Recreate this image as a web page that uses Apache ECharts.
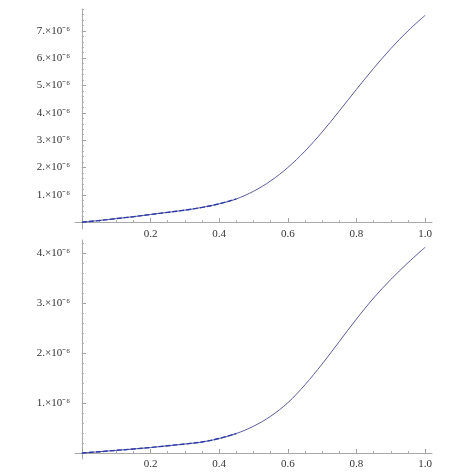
<!DOCTYPE html>
<html>
<head>
<meta charset="utf-8">
<script src="https://cdn.jsdelivr.net/npm/echarts@6/dist/echarts.min.js"></script>
<style>
  html, body { margin: 0; padding: 0; background: #fff; }
  #chart { width: 474px; height: 474px; }
</style>
</head>
<body>
<div id="chart"></div>
<script>
// x 取样点
const xs = [0, 0.05, 0.1, 0.15, 0.2, 0.25, 0.3, 0.35, 0.4, 0.45, 0.5,
            0.55, 0.6, 0.65, 0.7, 0.75, 0.8, 0.85, 0.9, 0.95, 1.0]
// 上图数值 (单位 10^-6)
const topVals = [0, 0.06, 0.13, 0.2, 0.28, 0.36, 0.44, 0.54, 0.67, 0.85, 1.13,
                 1.51, 2.0, 2.6, 3.3, 4.07, 4.86, 5.63, 6.35, 7.0, 7.57]
// 下图数值 (单位 10^-6)
const bottomVals = [0, 0.025, 0.053, 0.08, 0.11, 0.145, 0.18, 0.22, 0.29, 0.39, 0.535,
                    0.735, 1.005, 1.365, 1.78, 2.23, 2.68, 3.1, 3.47, 3.805, 4.115]
// 刻度
const xLabels = [0.2, 0.4, 0.6, 0.8, 1.0]
const xMajor = [0, 0.2, 0.4, 0.6, 0.8, 1.0]
const topYLabels = [1, 2, 3, 4, 5, 6, 7]
const bottomYLabels = [1, 2, 3, 4]

const FONT = 'Liberation Serif'
const lineColor = '#5b5b9c'

// 副刻度
const steps = (from, to, step) => {
  const out = []
  for (let i = 0; from + i * step <= to + 1e-9; i++) out.push(+(from + i * step).toFixed(4))
  return out
}
const xMinor = steps(0, 1.0, 0.05)

const pairs = (vals) => xs.map((x, i) => [x, vals[i]])

const yLabelFmt = (v) => `${v}.×10⁻⁶`

function buildAxes(gridIndex, yMin, yMax, yLabels) {
  const x = [
    {
      type: 'value', gridIndex, min: -0.02, max: 1.02, position: 'bottom',
      axisLine: { onZero: true, lineStyle: { color: '#a8a8a8', width: 1 } },
      axisTick: { inside: true, length: 4, customValues: xMajor, lineStyle: { color: '#999' } },
      axisLabel: { customValues: xLabels, margin: 0, fontFamily: FONT, fontSize: 11, color: '#333',
                   formatter: (v) => v.toFixed(1) },
      splitLine: { show: false }
    },
    {
      type: 'value', gridIndex, min: -0.02, max: 1.02, position: 'bottom',
      axisLine: { show: false, onZero: true },
      axisTick: { inside: true, length: 2, customValues: xMinor, lineStyle: { color: '#aaa' } },
      axisLabel: { show: false },
      splitLine: { show: false }
    }
  ]
  const y = [
    {
      type: 'value', gridIndex, min: yMin, max: yMax, position: 'left',
      axisLine: { show: true, onZero: true, lineStyle: { color: '#a8a8a8', width: 1 } },
      axisTick: { show: true, inside: true, length: 4, customValues: [0].concat(yLabels), lineStyle: { color: '#999' } },
      axisLabel: { customValues: yLabels, margin: 5, formatter: yLabelFmt,
                   fontFamily: FONT, fontSize: 11, color: '#333' },
      splitLine: { show: false }
    },
    {
      type: 'value', gridIndex, min: yMin, max: yMax, position: 'left',
      axisLine: { show: false, onZero: true },
      axisTick: { show: true, inside: true, length: 2, customValues: steps(0, Math.floor(yMax * 5) / 5, 0.2), lineStyle: { color: '#aaa' } },
      axisLabel: { show: false },
      splitLine: { show: false }
    }
  ]
  return { x, y }
}

const topAxes = buildAxes(0, -0.25, 7.8, topYLabels)
const bottomAxes = buildAxes(1, -0.12, 4.26, bottomYLabels)

const chart = echarts.init(document.getElementById('chart'), null, { renderer: 'canvas' })
chart.setOption({
  animation: false,
  backgroundColor: '#fff',
  grid: [
    { left: 75, top: 9, width: 357, height: 220 },
    { left: 75, top: 240, width: 357, height: 219 }
  ],
  xAxis: topAxes.x.concat(bottomAxes.x),
  yAxis: topAxes.y.concat(bottomAxes.y),
  series: [
    { type: 'line', xAxisIndex: 0, yAxisIndex: 0, data: pairs(topVals), smooth: 0.35, showSymbol: false,
      lineStyle: { color: lineColor, width: 1 } },
    { type: 'line', xAxisIndex: 0, yAxisIndex: 0, data: pairs(topVals).slice(0, 10), smooth: 0.35, showSymbol: false,
      lineStyle: { color: '#2a3aa8', width: 1.4, type: [5, 2] } },
    { type: 'line', xAxisIndex: 2, yAxisIndex: 2, data: pairs(bottomVals), smooth: 0.35, showSymbol: false,
      lineStyle: { color: lineColor, width: 1 } },
    { type: 'line', xAxisIndex: 2, yAxisIndex: 2, data: pairs(bottomVals).slice(0, 10), smooth: 0.35, showSymbol: false,
      lineStyle: { color: '#2a3aa8', width: 1.4, type: [5, 2] } }
  ]
})
</script>
</body>
</html>
